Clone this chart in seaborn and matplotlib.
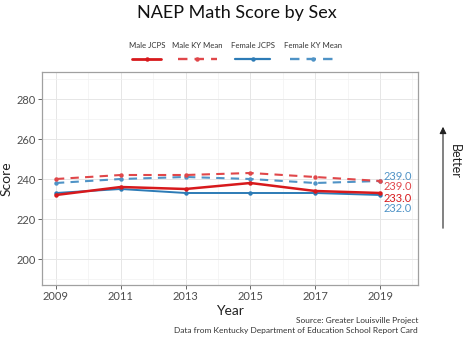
import matplotlib
matplotlib.use("Agg")
import matplotlib.pyplot as plt
from matplotlib.lines import Line2D
from matplotlib.patches import FancyArrowPatch
from matplotlib.ticker import MultipleLocator
import seaborn as sns
import pandas as pd

years = [2009, 2011, 2013, 2015, 2017, 2019]
male_jcps = [232, 236, 235, 238, 234, 233]
male_ky = [240, 242, 242, 243, 241, 239]
female_jcps = [233, 235, 233, 233, 233, 232]
female_ky = [238, 240, 241, 240, 238, 239]
series_names = ["Male JCPS", "Male KY Mean", "Female JCPS", "Female KY Mean"]
y_ticks = [200, 220, 240, 260, 280]
x_ticks = years

RED = "#D7191C"
BLUE = "#2C7BB6"
RED_L = "#E0474A"
BLUE_L = "#4F93C6"
colors = {"Male JCPS": RED, "Male KY Mean": RED_L,
          "Female JCPS": BLUE, "Female KY Mean": BLUE_L}
dashes = {"Male JCPS": "", "Male KY Mean": (4, 3),
          "Female JCPS": "", "Female KY Mean": (4, 3)}
widths = {"Male JCPS": 1.8, "Male KY Mean": 1.5,
          "Female JCPS": 1.4, "Female KY Mean": 1.5}

df = pd.DataFrame({
    "Year": years * 4,
    "Score": male_jcps + male_ky + female_jcps + female_ky,
    "Series": sum([[s] * len(years) for s in series_names], []),
})

sns.set_theme(style="whitegrid")
plt.rcParams["font.family"] = ["Lato", "DejaVu Sans"]

W, H = 474, 338
fig = plt.figure(figsize=(W / 100, H / 100), dpi=100)
ax = fig.add_axes([42 / W, 1 - 285 / H, (418 - 42) / W, (285 - 72) / H])

draw_order = ["Female KY Mean", "Male KY Mean", "Female JCPS", "Male JCPS"]
for name in draw_order:
    sub = df[df["Series"] == name]
    sns.lineplot(data=sub, x="Year", y="Score", ax=ax, color=colors[name],
                 linewidth=widths[name], marker="o", markersize=3.2,
                 markeredgewidth=0, dashes=False, legend=False)
    if dashes[name]:
        ax.lines[-1].set_dashes(dashes[name])

ax.set_xlim(2008.57, 2020.17)
ax.set_ylim(187, 293.5)
ax.set_xticks(x_ticks)
ax.set_yticks(y_ticks)
ax.xaxis.set_minor_locator(MultipleLocator(1))
ax.yaxis.set_minor_locator(MultipleLocator(10))
ax.grid(which="major", color="#E6E6E6", linewidth=0.7)
ax.grid(which="minor", color="#F2F2F2", linewidth=0.5)
for sp in ax.spines.values():
    sp.set_edgecolor("#A0A0A0")
    sp.set_linewidth(0.9)
ax.tick_params(axis="both", which="major", labelsize=8, labelcolor="#4D4D4D",
               length=3, color="#4D4D4D", width=0.6, pad=1.5,
               bottom=True, left=True)
ax.tick_params(which="minor", length=0)
ax.set_xlabel("Year", fontsize=10, color="#222222", labelpad=2)
ax.set_ylabel("Score", fontsize=10, color="#222222")
ax.yaxis.set_label_coords((13 - 42) / (418 - 42), 0.5)

# end-of-line value labels, nudged apart so they do not overlap
end_labels = [(female_ky[-1], BLUE_L, 5),
              (male_ky[-1], RED_L, -6),
              (male_jcps[-1], RED, -5),
              (female_jcps[-1], BLUE_L, -13)]
for val, col, dy in end_labels:
    ax.annotate(f"{val:.1f}", xy=(years[-1], val), xytext=(3, dy),
                textcoords="offset pixels", ha="left", va="center",
                fontsize=8, color=col)

fig.text(237 / W, 1 - 13 / H, "NAEP Math Score by Sex", ha="center",
         va="center", fontsize=13, color="#111111")

# legend: labels above keys
legend_items = [("Male JCPS", 147, 132, 161),
                ("Male KY Mean", 197, 178, 217),
                ("Female JCPS", 253, 235, 270),
                ("Female KY Mean", 313, 290, 333)]
for name, cx, x0, x1 in legend_items:
    fig.text(cx / W, 1 - 45 / H, name, ha="center", va="center",
             fontsize=5.6, color="#333333")
    ln = Line2D([x0 / W, x1 / W], [1 - 59 / H, 1 - 59 / H],
                transform=fig.transFigure, color=colors[name],
                linewidth=widths[name] + 0.2)
    if dashes[name]:
        ln.set_dashes(dashes[name])
    fig.add_artist(ln)
    fig.add_artist(Line2D([cx / W], [1 - 59 / H], transform=fig.transFigure,
                          marker="o", markersize=3.2, markeredgewidth=0,
                          color=colors[name], linestyle="none"))

# "Better" arrow
fig.add_artist(FancyArrowPatch(
    (443 / W, 1 - 231 / H), (443 / W, 1 - 124 / H),
    transform=fig.transFigure, arrowstyle="-|>", mutation_scale=10,
    color="#222222", linewidth=0.8))
fig.text(455 / W, 1 - 161 / H, "Better", rotation=-90, ha="center",
         va="center", fontsize=9, color="#222222")

fig.text(418 / W, 1 - 321 / H, "Source: Greater Louisville Project",
         ha="right", va="center", fontsize=6, color="#333333")
fig.text(418 / W, 1 - 331 / H,
         "Data from Kentucky Department of Education School Report Card",
         ha="right", va="center", fontsize=6, color="#333333")

fig.savefig("out.png", dpi=100, facecolor="white")
